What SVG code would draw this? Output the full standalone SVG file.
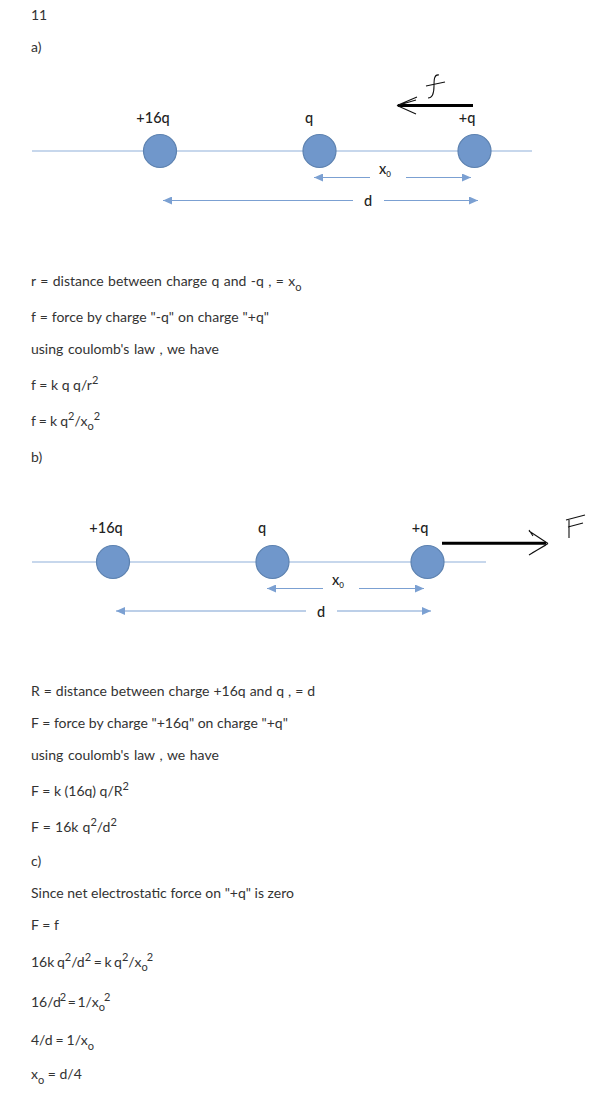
<svg xmlns="http://www.w3.org/2000/svg" width="604" height="1100" viewBox="0 0 604 1100">
<style>
text{font-family:Lato,"Liberation Sans",sans-serif;fill:#333}
.b{font-size:14px}
.s{font-size:11px}
.l{font-size:14.500px;fill:#222;font-weight:500;text-anchor:middle}
.ax{stroke:#8fb0d9;stroke-width:1.2;fill:none}
.ar{stroke:#7ba0d2;stroke-width:1.2;fill:none;marker-end:url(#m)}
.c{fill:#7097cb;stroke:#5d82b0;stroke-width:1.2}
.h{stroke:#111;stroke-width:1.100;fill:none}
.k{stroke:#000;stroke-width:3;fill:none}
</style>
<defs><marker id="m" markerUnits="userSpaceOnUse" markerWidth="10" markerHeight="8" refX="9" refY="4" orient="auto"><path d="M0 0L9 4L0 8Z" fill="#7ba0d2"/></marker></defs>
<g id="connectors">
<path class="ax" d="M32 151H532"/>
<path class="ar" d="M370 177.500H314"/><path class="ar" d="M406 177.500H471"/>
<path class="ar" d="M353 200.500H163"/><path class="ar" d="M384 200.500H478"/>
<path class="k" d="M473 105.500H398"/>
<path class="h" d="M397 105.500L417 97M399 105L416 100M397 105.500L416 114"/>
<path class="ax" d="M32 562H486"/>
<path class="ar" d="M323 588.500H267"/><path class="ar" d="M359 588.500H424"/>
<path class="ar" d="M306 611H116"/><path class="ar" d="M337 611H431"/>
<path class="k" d="M442 543.200H546"/>
<path class="h" d="M548 543.500L529 531M529 530L533 536M548 543.500L529 555M532 553L546 545"/>
</g>
<g id="handwritten-f"><path class="h" d="M439 75C434 74 434 80 434 86C434 92 433 98 428 98M426 86L445 82"/></g>
<g id="handwritten-F"><path class="h" d="M569 520V538M566 520L585 515M568 527L583 523"/></g>
<g id="n1"><circle class="c" cx="160" cy="151" r="16.500"/><text class="l" x="153" y="123">+16q</text></g>
<g id="n2"><circle class="c" cx="319.500" cy="151" r="16.500"/><text class="l" x="309" y="123">q</text></g>
<g id="n3"><circle class="c" cx="474.500" cy="151" r="16.500"/><text class="l" x="467" y="123">+q</text></g>
<text class="l" x="385" y="174">x<tspan font-size="8" dy="3">0</tspan></text>
<text class="l" x="368" y="206">d</text>
<g id="n4"><circle class="c" cx="113" cy="562" r="16.500"/><text class="l" x="106" y="533">+16q</text></g>
<g id="n5"><circle class="c" cx="272.500" cy="562" r="16.500"/><text class="l" x="262" y="533">q</text></g>
<g id="n6"><circle class="c" cx="427.500" cy="562" r="16.500"/><text class="l" x="420" y="533">+q</text></g>
<text class="l" x="338" y="585">x<tspan font-size="8" dy="3">0</tspan></text>
<text class="l" x="321" y="617">d</text>
<text class="b" x="31" y="20">11</text>
<text class="b" x="31" y="52">a)</text>
<text class="b" x="31" y="286" word-spacing="0.800">r = distance between charge q and -q , = x<tspan class="s" dy="5">o</tspan></text>
<text class="b" x="31" y="322" word-spacing="0.400">f = force by charge "-q" on charge "+q"</text>
<text class="b" x="31" y="354" word-spacing="1">using coulomb's law , we have</text>
<text class="b" x="31" y="390">f = k q q/r<tspan class="s" dy="-6">2</tspan></text>
<text class="b" x="31" y="426" word-spacing="-0.500">f = k q<tspan class="s" dy="-6">2</tspan><tspan dy="6">/x</tspan><tspan class="s" dy="4">o</tspan><tspan class="s" dy="-10">2</tspan></text>
<text class="b" x="31" y="462">b)</text>
<text class="b" x="31" y="696" word-spacing="0.400">R = distance between charge +16q and q , = d</text>
<text class="b" x="31" y="728">F = force by charge "+16q" on charge "+q"</text>
<text class="b" x="31" y="760" word-spacing="1">using coulomb's law , we have</text>
<text class="b" x="31" y="796">F = k (16q) q/R<tspan class="s" dy="-6">2</tspan></text>
<text class="b" x="31" y="832" word-spacing="0.600">F = 16k q<tspan class="s" dy="-6">2</tspan><tspan dy="6">/d</tspan><tspan class="s" dy="-6">2</tspan></text>
<text class="b" x="31" y="866">c)</text>
<text class="b" x="31" y="898">Since net electrostatic force on "+q" is zero</text>
<text class="b" x="31" y="930">F = f</text>
<text class="b" x="31" y="967" word-spacing="-1">16k q<tspan class="s" dy="-6">2</tspan><tspan dy="6">/d</tspan><tspan class="s" dy="-6">2</tspan><tspan dy="6"> = k q</tspan><tspan class="s" dy="-6">2</tspan><tspan dy="6">/x</tspan><tspan class="s" dy="4">o</tspan><tspan class="s" dy="-10" dx="-1">2</tspan></text>
<text class="b" x="31" y="1007" word-spacing="-2">16/d<tspan class="s" dy="-6" dx="-1">2</tspan><tspan dy="6"> = 1/x</tspan><tspan class="s" dy="4">o</tspan><tspan class="s" dy="-10" dx="-1">2</tspan></text>
<text class="b" x="31" y="1045" word-spacing="-0.700">4/d = 1/x<tspan class="s" dy="5">o</tspan></text>
<text class="b" x="31" y="1079">x<tspan class="s" dy="5">o</tspan><tspan dy="-5"> = d/4</tspan></text>
</svg>
